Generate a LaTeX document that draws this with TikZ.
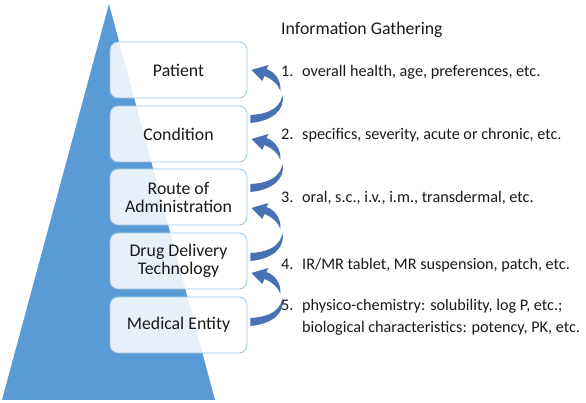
\documentclass[tikz,border=0pt]{standalone}
\usepackage{fontspec}
\setmainfont{Carlito}
\definecolor{officeblue}{RGB}{91,155,213}
\definecolor{officeedge}{RGB}{157,195,230}
\definecolor{officearrow}{RGB}{72,114,180}
\definecolor{officetext}{RGB}{25,25,25}
\tikzset{stage/.style={draw=officeedge, line width=0.8pt, rounded corners=8pt, fill=white, fill opacity=0.86, text opacity=1, minimum width=137pt, minimum height=56pt, align=center, font=\fontsize{17.8}{18}\selectfont, text=officetext}}
\tikzset{item/.style={anchor=base west, inner sep=0pt, align=left, font=\fontsize{16.2}{22}\selectfont, text=officetext}}
\tikzset{gather/.pic={
        \fill[officearrow] (0,-4) .. controls (22,-2) and (35,9) .. (32,24) .. controls (30,12) and (20,5) .. (0,4) -- cycle;
        \fill[officearrow] (30,28) .. controls (31,38) and (25,47) .. (16,50) -- (18,54) -- (1,49) -- (12,38) -- (14,43) .. controls (22,40) and (28,34) .. (30,28) -- cycle;
}}

\begin{document}
\begin{tikzpicture}[x=1pt, y=1pt]
        \useasboundingbox (0,0) rectangle (586,403);

        \fill[officeblue] (2,3) -- (109,399) -- (215,3) -- cycle;

        \node[stage] (patient) at (178.5,333) {Patient};
        \node[stage] (condition) at (178.5,269) {Condition};
        \node[stage] (route) at (178.5,206) {Route of\\Administration};
        \node[stage] (drug) at (178.5,142) {Drug Delivery\\Technology};
        \node[stage] (entity) at (178.5,78) {Medical Entity};

        \pic at ([shift={(3,15)}]condition.east) {gather};
        \pic at ([shift={(3,9)}]route.east) {gather};
        \pic at ([shift={(3,4)}]drug.east) {gather};
        \pic at ([shift={(3,3)}]entity.east) {gather};

        \node[item, font=\fontsize{17.8}{20}\selectfont] (title) at (281,368) {Information Gathering};
        \node[item] (info1) at (281,326) {\makebox[21pt][l]{1.}overall health, age, preferences, etc.};
        \node[item] (info2) at (281,263) {\makebox[21pt][l]{2.}specifics, severity, acute or chronic, etc.};
        \node[item] (info3) at (281,200) {\makebox[21pt][l]{3.}oral, s.c., i.v., i.m., transdermal, etc.};
        \node[item] (info4) at (281,133) {\makebox[21pt][l]{4.}IR/MR tablet, MR suspension, patch, etc.};
        \node[item] (info5) at (281,70) {\makebox[21pt][l]{5.}physico-chemistry: solubility, log P, etc.;\\\hspace*{21pt}biological characteristics: potency, PK, etc.};
\end{tikzpicture}
\end{document}
